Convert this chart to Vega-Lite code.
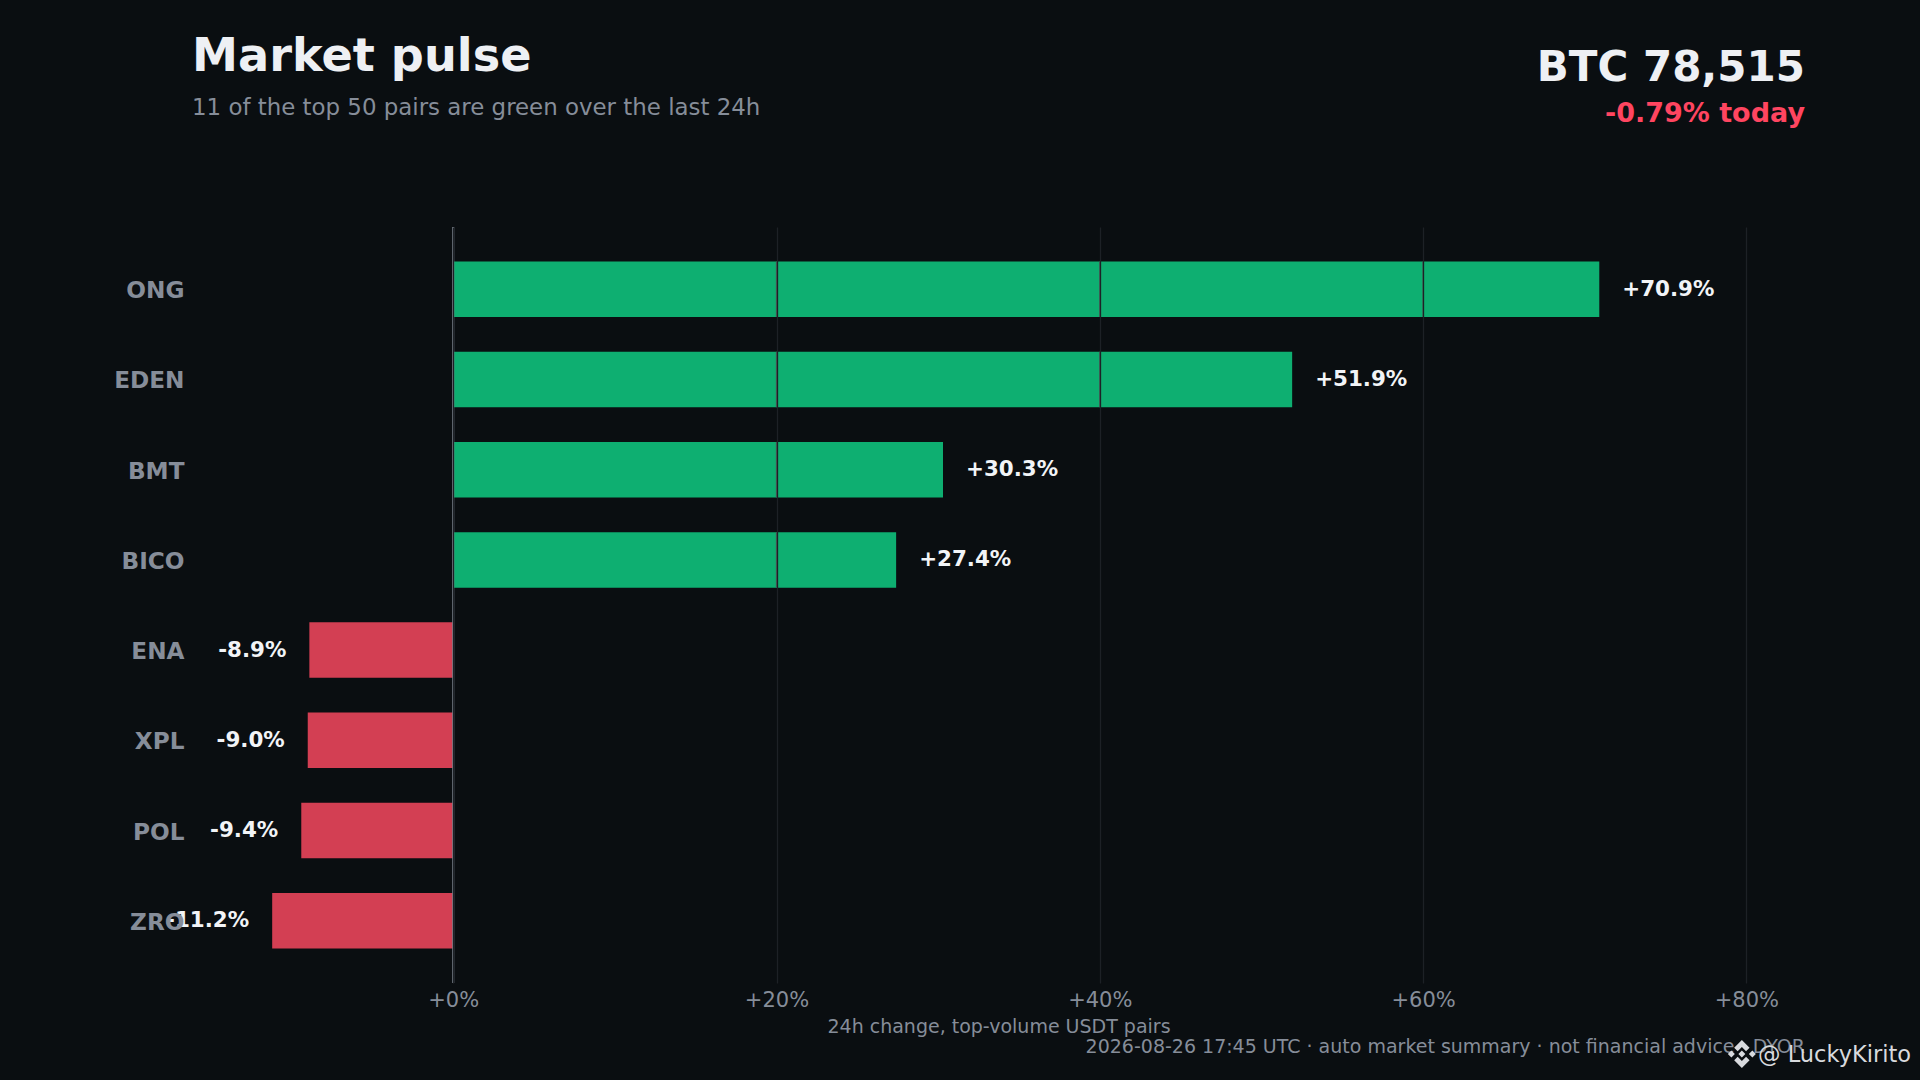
{"$schema":"https://vega.github.io/schema/vega-lite/v6.json","autosize":{"type":"none"},"padding":{"left":192,"top":227,"right":115,"bottom":97},"width":1613,"height":756,"background":"#0a0e11","view":{"stroke":null},
"title":{"text":"Market pulse","subtitle":"11 of the top 50 pairs are green over the last 24h","anchor":"start","frame":"group","font":"DejaVu Sans","fontSize":46.2,"fontWeight":"bold","color":"#eef0f4","subtitleFont":"DejaVu Sans","subtitleFontSize":22.9,"subtitleColor":"#868d99","subtitlePadding":15.5,"offset":-73.5},
"datasets":{"bars":[{"symbol":"ONG","change":70.9,"label":"+70.9%","side":"up"},{"symbol":"EDEN","change":51.9,"label":"+51.9%","side":"up"},{"symbol":"BMT","change":30.3,"label":"+30.3%","side":"up"},{"symbol":"BICO","change":27.4,"label":"+27.4%","side":"up"},{"symbol":"ENA","change":-8.9,"label":"-8.9%","side":"down"},{"symbol":"XPL","change":-9.0,"label":"-9.0%","side":"down"},{"symbol":"POL","change":-9.4,"label":"-9.4%","side":"down"},{"symbol":"ZRO","change":-11.2,"label":"-11.2%","side":"down"}],
"head":[{"pos":83.626,"t":"BTC 78,515"}],"sub":[{"pos":83.626,"t":"-0.79% today"}],"foot":[{"pos":83.626,"t":"2026-08-26 17:45 UTC · auto market summary · not financial advice · DYOR"}],"mark":[{"pos":90.19,"t":"@ LuckyKirito"}],"icon":[{"pos":79.72}],"zero":[{"pos":0}],
"crossings":[{"pos":20,"symbol":"ONG"},{"pos":40,"symbol":"ONG"},{"pos":60,"symbol":"ONG"},{"pos":20,"symbol":"EDEN"},{"pos":40,"symbol":"EDEN"},{"pos":20,"symbol":"BMT"},{"pos":20,"symbol":"BICO"}]},
"layer":[
{"data":{"name":"bars"},"mark":{"type":"bar","clip":false},"encoding":{"y":{"field":"symbol","type":"nominal","sort":null,"scale":{"paddingInner":0.385,"paddingOuter":0.383},"axis":{"title":null,"orient":"left","domain":false,"ticks":false,"labelFont":"DejaVu Sans","labelFontSize":23.2,"labelFontWeight":"bold","labelColor":"#868d99","labelPadding":8,"labelAlign":"right","labelBaseline":"middle","labelOverlap":false,"labelBound":false,"labelOffset":2,"zindex":1}},"x":{"field":"change","type":"quantitative","scale":{"domain":[-16.16,83.626],"nice":false,"zero":false},"axis":{"values":[0,20,40,60,80],"labelExpr":"'+' + datum.value + '%'","orient":"bottom","domain":false,"ticks":false,"grid":true,"gridColor":"#1d2126","gridWidth":1.3,"labelFont":"DejaVu Sans","labelFontSize":21,"labelColor":"#868d99","labelPadding":6,"title":"24h change, top-volume USDT pairs","titleFont":"DejaVu Sans","titleFontSize":19,"titleFontWeight":"normal","titleColor":"#868d99","titlePadding":7,"zindex":1}},"color":{"field":"side","type":"nominal","scale":{"domain":["up","down"],"range":["#0eaf71","#d33f53"]},"legend":null}}},
{"data":{"name":"crossings"},"mark":{"type":"tick","color":"#4a5a5a","size":55.5,"thickness":1.3,"opacity":1},"encoding":{"x":{"field":"pos","type":"quantitative"},"y":{"field":"symbol","type":"nominal","sort":null}}},
{"data":{"name":"zero"},"mark":{"type":"rule","color":"#868d99","strokeWidth":2},"encoding":{"x":{"field":"pos","type":"quantitative"}}},
{"data":{"name":"bars"},"transform":[{"filter":"datum.side=='up'"}],"mark":{"type":"text","align":"left","dx":23,"dy":0.5,"font":"DejaVu Sans","fontSize":21.4,"fontWeight":"bold","color":"#f2f4f7"},"encoding":{"x":{"field":"change","type":"quantitative"},"y":{"field":"symbol","type":"nominal","sort":null},"text":{"field":"label"}}},
{"data":{"name":"bars"},"transform":[{"filter":"datum.side=='down'"}],"mark":{"type":"text","align":"right","dx":-23,"dy":0.5,"font":"DejaVu Sans","fontSize":21.4,"fontWeight":"bold","color":"#f2f4f7"},"encoding":{"x":{"field":"change","type":"quantitative"},"y":{"field":"symbol","type":"nominal","sort":null},"text":{"field":"label"}}},
{"data":{"name":"head"},"mark":{"type":"text","align":"right","font":"DejaVu Sans","fontSize":42,"fontWeight":"bold","color":"#eef0f4","y":-159},"encoding":{"x":{"field":"pos","type":"quantitative"},"text":{"field":"t"}}},
{"data":{"name":"sub"},"mark":{"type":"text","align":"right","font":"DejaVu Sans","fontSize":27,"fontWeight":"bold","color":"#ff4560","y":-113},"encoding":{"x":{"field":"pos","type":"quantitative"},"text":{"field":"t"}}},
{"data":{"name":"foot"},"mark":{"type":"text","align":"right","font":"DejaVu Sans","fontSize":19,"color":"#868d99","y":820},"encoding":{"x":{"field":"pos","type":"quantitative"},"text":{"field":"t"}}},
{"data":{"name":"mark"},"mark":{"type":"text","align":"right","font":"DejaVu Sans","fontSize":22.5,"color":"#d8dade","y":828},"encoding":{"x":{"field":"pos","type":"quantitative"},"text":{"field":"t"}}},
{"data":{"name":"icon"},"mark":{"type":"point","filled":true,"opacity":1,"color":"#d8dade","size":784,"y":827,"shape":"M0 -1 L0.55 -0.45 L0.3 -0.2 L0 -0.5 L-0.3 -0.2 L-0.55 -0.45 Z M0 1 L0.55 0.45 L0.3 0.2 L0 0.5 L-0.3 0.2 L-0.55 0.45 Z M-0.75 -0.25 L-0.5 0 L-0.75 0.25 L-1 0 Z M0.75 -0.25 L1 0 L0.75 0.25 L0.5 0 Z M0 -0.25 L0.25 0 L0 0.25 L-0.25 0 Z"},"encoding":{"x":{"field":"pos","type":"quantitative"}}}
]}
